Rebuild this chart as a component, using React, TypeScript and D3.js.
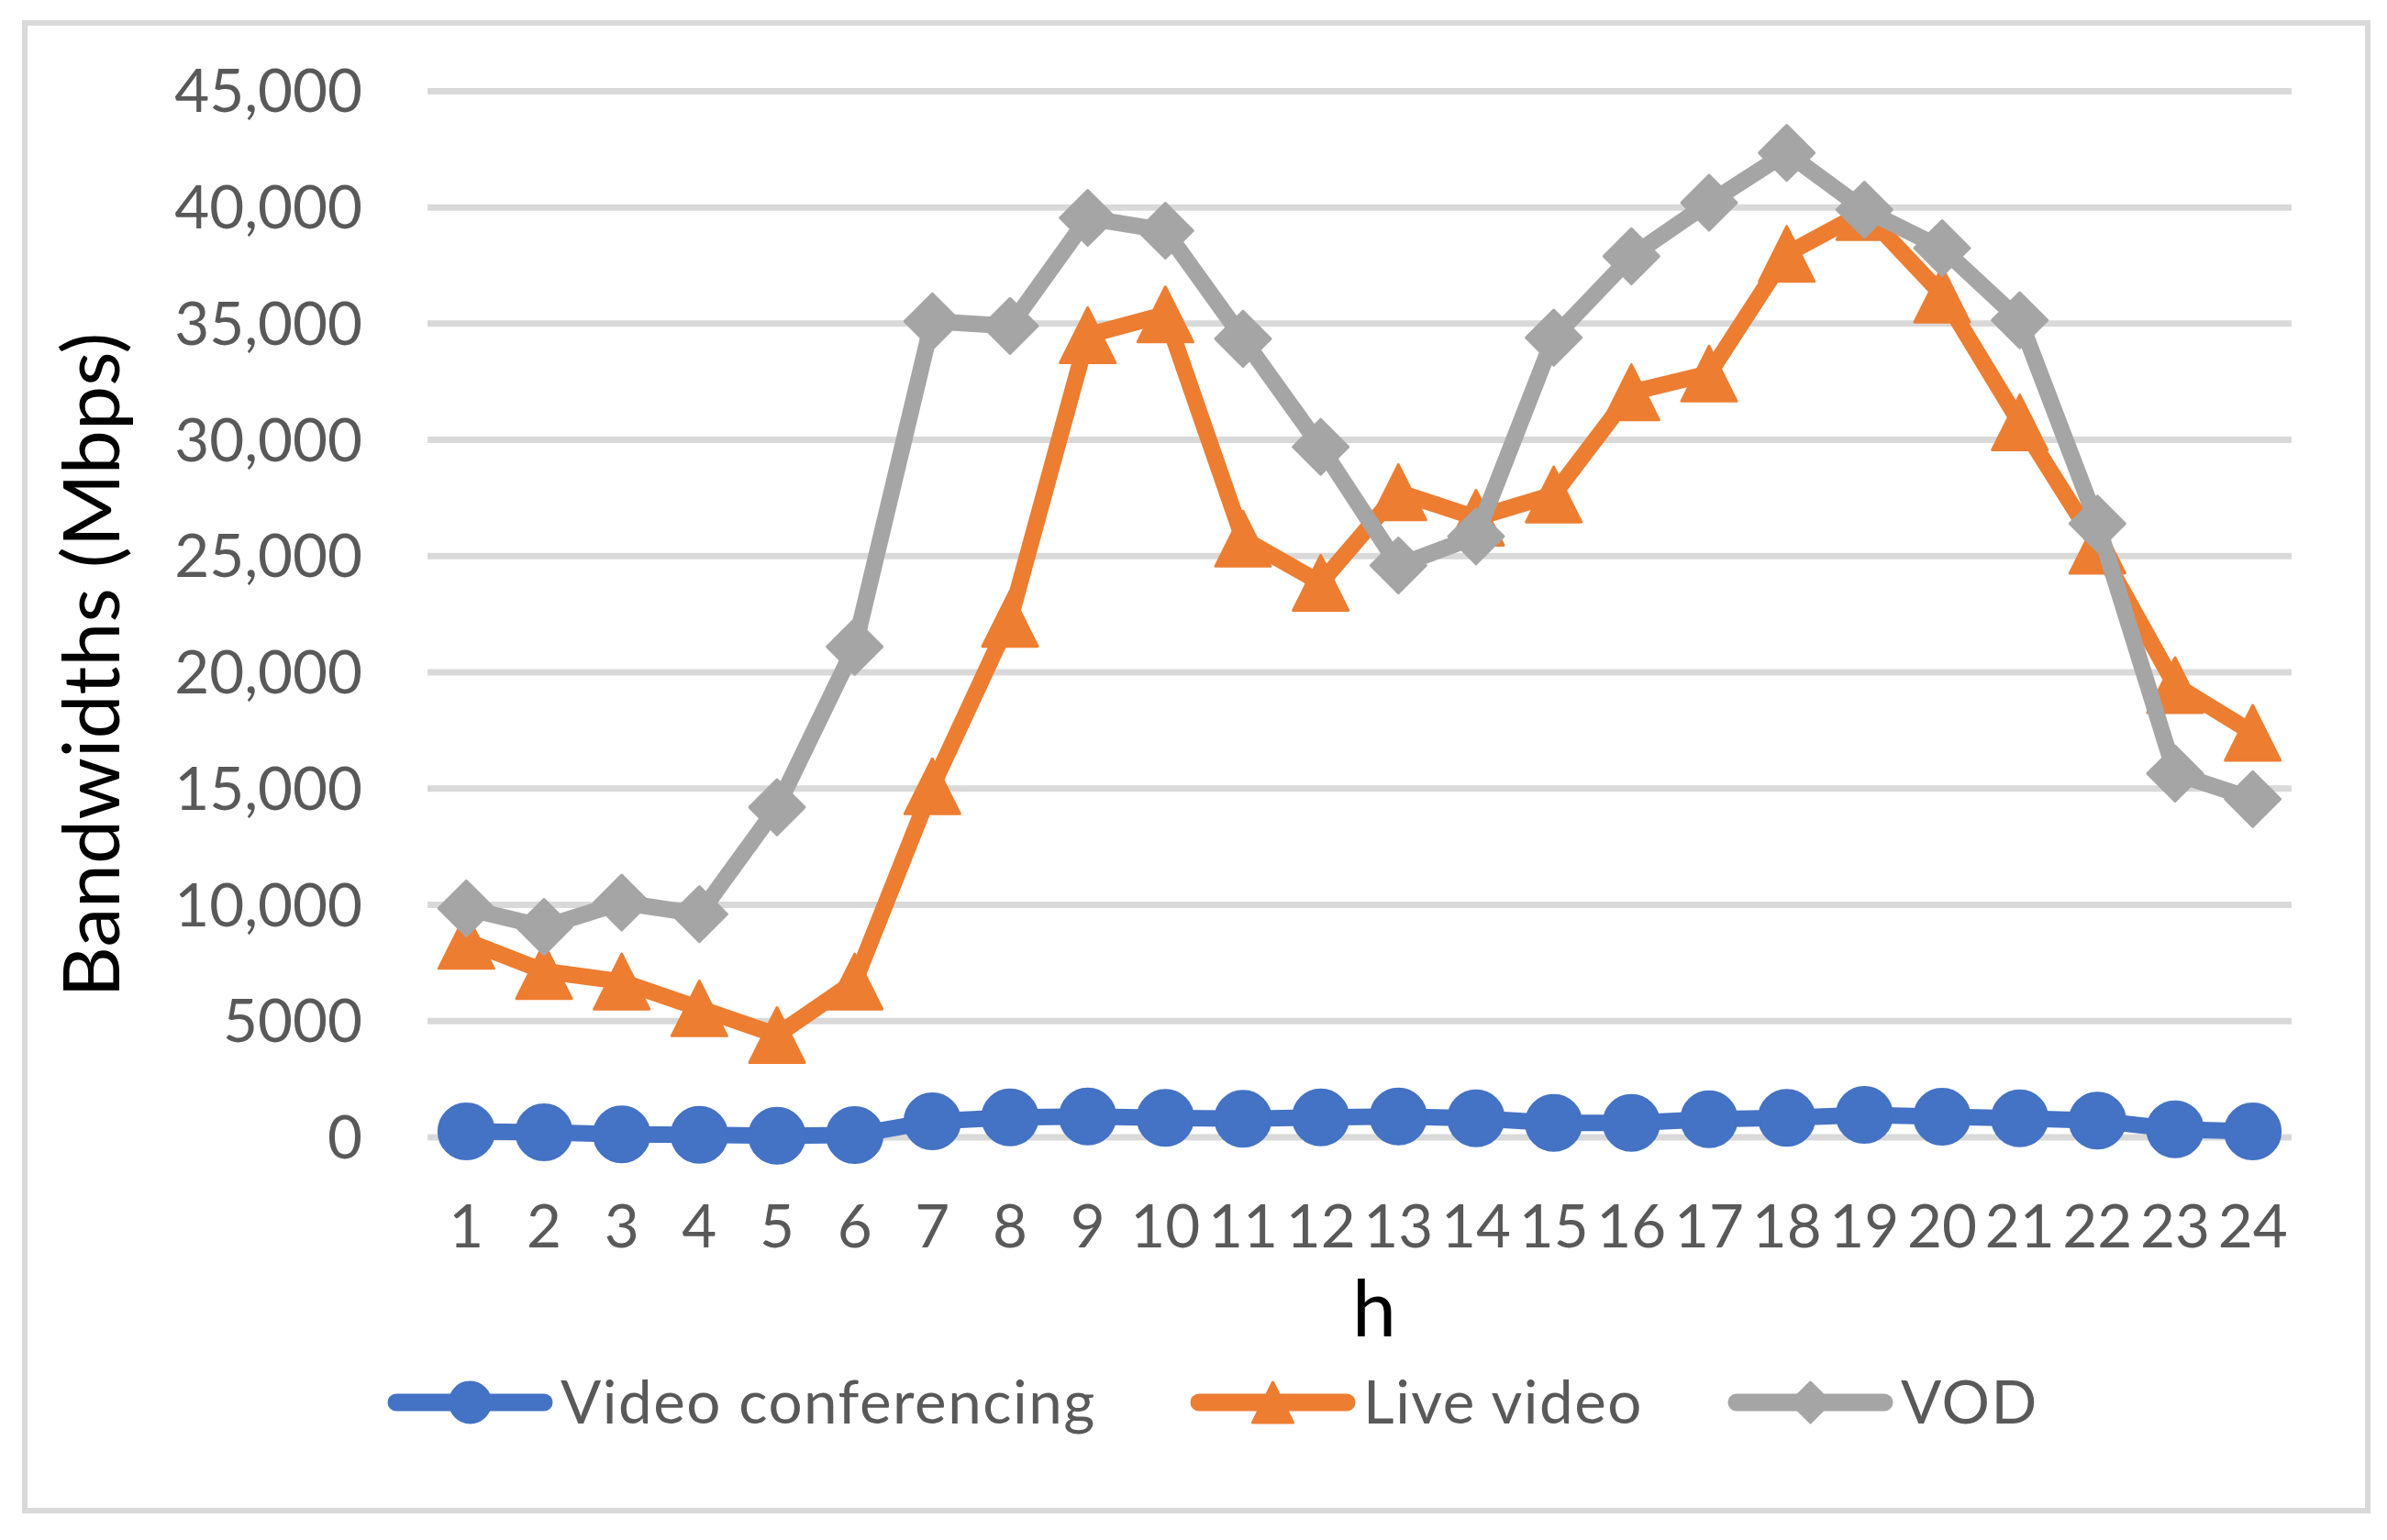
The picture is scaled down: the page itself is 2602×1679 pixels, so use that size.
import React from 'react';
import * as d3 from 'd3';

const hours = ['1', '2', '3', '4', '5', '6', '7', '8', '9', '10', '11', '12',
    '13', '14', '15', '16', '17', '18', '19', '20', '21', '22', '23', '24'];

const videoConferencing = [260, 220, 130, 110, 70, 100, 690, 860, 900, 840, 800, 860,
    900, 820, 620, 620, 780, 840, 970, 890, 820, 720, 350, 260];

const liveVideo = [8450, 7150, 6700, 5550, 4400, 6700, 15100, 22300, 34500, 35400, 25750, 23850,
    27750, 26650, 27650, 32050, 32850, 38000, 39800, 36250, 30750, 25450, 19450, 17400];

const vod = [9850, 9050, 10100, 9600, 14200, 21100, 35100, 34900, 39550, 39000, 34350, 29700,
    24600, 25850, 34400, 37900, 40200, 42350, 39900, 38250, 35150, 26400, 15650, 14550];

const yTicks = [0, 5000, 10000, 15000, 20000, 25000, 30000, 35000, 40000, 45000];
const yTickLabels = ['0', '5000', '10,000', '15,000', '20,000', '25,000', '30,000', '35,000', '40,000', '45,000'];

const seriesNames = ['Video conferencing', 'Live video', 'VOD'];
const seriesColors = ['#4472C4', '#ED7D31', '#A5A5A5'];
const seriesMarkers = ['circle', 'triangle', 'diamond'];

const W = 2602;
const H = 1679;
const margin = { left: 466, right: 2498, top: 99.4, bottom: 1240 };
const FONT = "Lato, 'Liberation Sans', sans-serif";

// marker path centred on 0,0 (bounding box centred, like Excel)
const markerPath = (kind: string, size: number) => {
    const h = size / 2;
    if (kind === 'triangle') return `M0,${-h}L${h},${h}L${-h},${h}Z`;
    if (kind === 'diamond') return `M0,${-h}L${h},0L0,${h}L${-h},0Z`;
    return `M${-h},0A${h},${h} 0 1,0 ${h},0A${h},${h} 0 1,0 ${-h},0Z`;
};

const App: React.FC = () => {
    const x = d3.scalePoint<string>()
        .domain(hours)
        .range([margin.left, margin.right])
        .padding(0.5);

    const y = d3.scaleLinear()
        .domain([0, 45000])
        .range([margin.bottom, margin.top]);

    const allSeries = [videoConferencing, liveVideo, vod];

    const line = d3.line<number>()
        .x((_, i) => x(hours[i]) as number)
        .y(d => y(d));

    const legendX = [423, 1298, 1884];
    const legendY = 1529;

    return (
        <svg width={W} height={H} style={{ position: 'absolute', left: 0, top: 0, background: '#fff' }}
            fontFamily={FONT}>
            <rect x={0} y={0} width={W} height={H} fill="#fff" />
            <rect x={27} y={25} width={2554} height={1622} fill="none" stroke="#d9d9d9" strokeWidth={6} />

            {/* gridlines */}
            {yTicks.map(t => (
                <line key={t} x1={margin.left} x2={margin.right} y1={y(t)} y2={y(t)}
                    stroke="#d9d9d9" strokeWidth={7} />
            ))}

            {/* y tick labels */}
            {yTicks.map((t, i) => (
                <text key={'yl' + t} x={395} y={y(t) + 23} textAnchor="end" fontSize={65.5} fill="#595959">
                    {yTickLabels[i]}
                </text>
            ))}

            {/* x tick labels */}
            {hours.map(hr => (
                <text key={'xl' + hr} x={x(hr)} y={1360} textAnchor="middle" fontSize={65.5} fill="#595959">
                    {hr}
                </text>
            ))}

            {/* axis titles */}
            <text transform="translate(130,725) rotate(-90)" textAnchor="middle" fontSize={86} fill="#000">
                Bandwidths (Mbps)
            </text>
            <text x={1498} y={1457} textAnchor="middle" fontSize={86} fill="#000">h</text>

            {/* series */}
            {allSeries.map((s, si) => (
                <g key={seriesNames[si]}>
                    <path d={line(s) ?? ''} fill="none" stroke={seriesColors[si]} strokeWidth={18}
                        strokeLinejoin="round" strokeLinecap="round" />
                    {s.map((v, i) => (
                        <path key={i} transform={`translate(${x(hours[i])},${y(v)})`}
                            d={markerPath(seriesMarkers[si], 60)} fill={seriesColors[si]}
                            stroke={seriesColors[si]} strokeWidth={3} strokeLinejoin="round" />
                    ))}
                </g>
            ))}

            {/* legend */}
            {seriesNames.map((name, si) => (
                <g key={'lg' + name} transform={`translate(${legendX[si]},${legendY})`}>
                    <line x1={9} x2={170} y1={0} y2={0} stroke={seriesColors[si]} strokeWidth={19}
                        strokeLinecap="round" />
                    <path transform="translate(89.5,0)" d={markerPath(seriesMarkers[si], 44)}
                        fill={seriesColors[si]} stroke={seriesColors[si]} strokeWidth={3} strokeLinejoin="round" />
                    <text x={188} y={23} fontSize={65.5} fill="#595959" letterSpacing={1.5}>{name}</text>
                </g>
            ))}
        </svg>
    );
};

export default App;
